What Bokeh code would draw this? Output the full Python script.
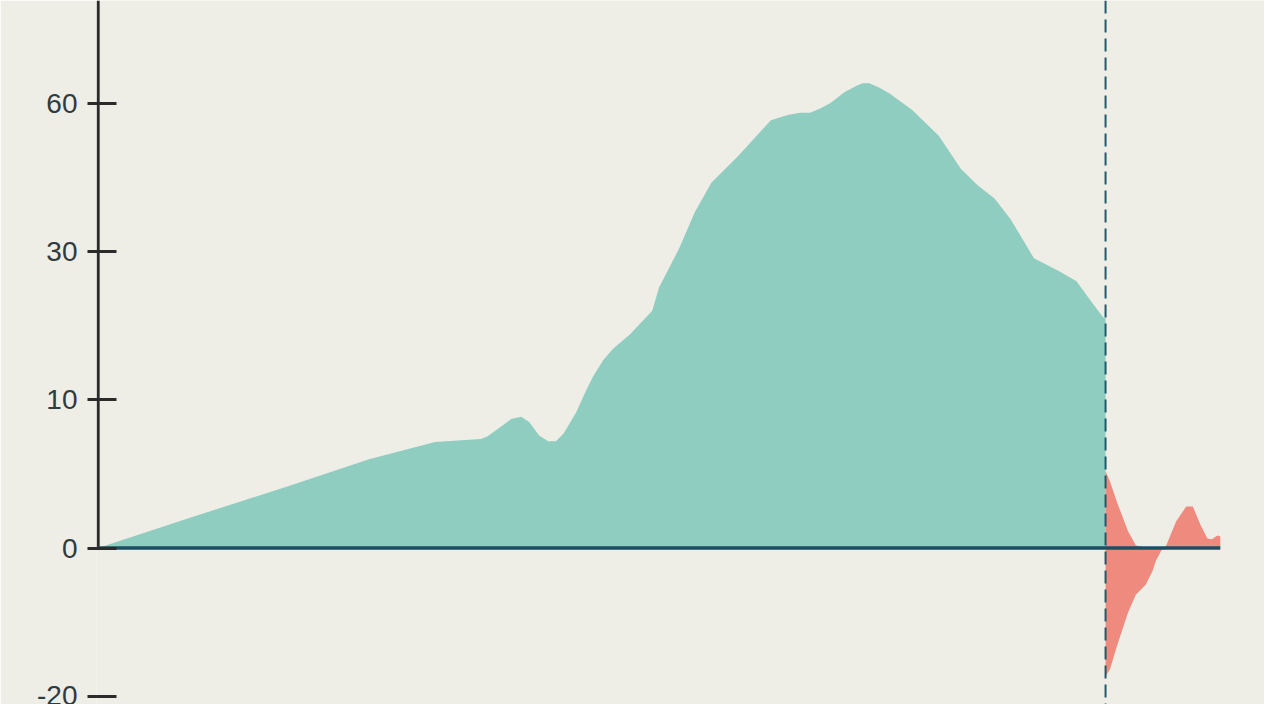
from bokeh.plotting import figure
from bokeh.models import FixedTicker, Span, Range1d
from bokeh.embed import file_html
from bokeh.resources import INLINE

# ---- data ----
teal_x = [0, 8.0, 16.9, 24.2, 30.1, 34.2, 34.8, 36.0, 36.9, 37.8, 38.5, 39.4, 40.2, 40.9,
          41.6, 42.7, 43.6, 44.2, 45.1, 46.0, 47.5, 49.5, 50.1, 51.9, 53.3, 54.8, 57.2,
          60.1, 61.6, 62.7, 63.6, 64.5, 65.4, 66.7, 67.8, 68.3, 68.9, 69.8, 70.7, 72.7,
          75.1, 77.1, 78.6, 80.1, 81.5, 83.6, 85.9, 87.4, 88.9, 89.8, 90.0]
teal_y = [0, 4.0, 8.3, 12.0, 14.3, 14.7, 15.1, 16.4, 17.4, 17.7, 17.0, 15.2, 14.4, 14.4,
          15.5, 18.3, 21.3, 23.1, 25.3, 26.9, 28.8, 32.0, 35.1, 40.4, 45.3, 49.3, 52.9,
          57.7, 58.4, 58.7, 58.7, 59.3, 60.0, 61.5, 62.4, 62.7, 62.7, 62.1, 61.3, 59.1,
          55.6, 51.1, 48.9, 47.1, 44.4, 39.1, 37.3, 36.0, 32.9, 31.1, 31.0]

red_x = [90.0, 90.4, 91.0, 92.0, 92.7, 93.6, 94.2, 94.5, 95.0, 95.4, 96.3, 97.2, 97.8,
         98.5, 99.1, 99.5, 100.0, 100.25]
red_upper = [10.4, 9.0, 6.3, 2.3, 0.4, 0, 0, 0, 0, 0.3, 3.6, 5.6, 5.6, 3.1, 1.3, 1.2, 1.7, 1.6]
red_lower = [-17.3, -16.3, -13.3, -8.7, -6.3, -4.9, -3.1, -1.7, -0.3, 0, 0, 0, 0, 0, 0, 0, 0, 0]

y_ticks = [-20, 0, 20, 40, 60]
y_tick_labels = {-20: "-20", 0: "0", 20: "10", 40: "30", 60: "60"}
split_x = 90

# ---- style ----
BG = "#EEEDE6"
TEAL = "#8ECDBF"
RED = "#EF8B7E"
BASE = "#1C4F63"
AXIS = "#2B2B2B"
DASH = "#1E5B6A"

x_start, x_end = -0.15, 104.2
y_start, y_end = -21.09, 73.85

p = figure(width=1264, height=704, output_backend="svg", toolbar_location=None,
           x_range=Range1d(x_start, x_end), y_range=Range1d(y_start, y_end),
           min_border_left=96, min_border_right=0, min_border_top=0, min_border_bottom=0)
p.background_fill_color = BG
p.border_fill_color = BG
p.outline_line_color = None
p.grid.visible = False
p.xaxis.visible = False

ya = p.yaxis[0]
ya.ticker = FixedTicker(ticks=y_ticks)
ya.major_label_overrides = y_tick_labels
ya.axis_line_color = None
ya.major_tick_line_color = AXIS
ya.major_tick_line_width = 3
ya.major_tick_in = 20
ya.major_tick_out = 9
ya.minor_tick_line_color = None
ya.major_label_standoff = 10
ya.major_label_text_font = "Liberation Sans"
ya.major_label_text_font_size = "28px"
ya.major_label_text_color = "#2E3B3F"

p.varea(x=teal_x, y1=0, y2=teal_y, fill_color=TEAL)
p.varea(x=red_x, y1=red_lower, y2=red_upper, fill_color=RED)

# axis line (stops at zero)
p.line(x=[0, 0], y=[0, y_end], line_color=AXIS, line_width=3)
# baseline
p.line(x=[teal_x[0], red_x[-1]], y=[0, 0], line_color=BASE, line_width=3.5)

p.add_layout(Span(location=split_x, dimension="height", line_color=DASH,
                  line_width=2, line_dash="13 6"))

open("out.html", "w").write(file_html(p, INLINE))
